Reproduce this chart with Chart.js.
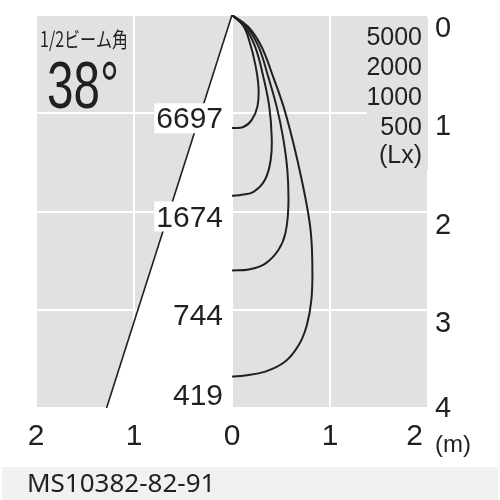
<!DOCTYPE html>
<html>
<head>
<meta charset="utf-8">
<title>配光図 MS10382-82-91</title>
<script src="https://cdn.jsdelivr.net/npm/chart.js@4.4.0/dist/chart.umd.min.js"></script>
<style>
  body { margin: 0; background: #fff; }
  canvas { display: block; }
</style>
</head>
<body>
<canvas id="beam" width="500" height="500"></canvas>
<script>
  // axis ticks (m)
  var xTicks = [-2, -1, 0, 1, 2];
  var yTicks = [0, 1, 2, 3, 4];

  // centre illuminance at each distance
  var centerDepths = [1, 2, 3, 4];
  var centerLux = ['6697', '1674', '744', '419'];
  var luxLevels = ['5000', '2000', '1000', '500'];

  // half beam angle edge
  var beamX = [0, -1.28];
  var beamY = [0, 4];

  // isolux curves, x = offset (m), y = distance (m)
  var lux5000X = [0, 0.115, 0.184, 0.235, 0.27, 0.26, 0.20, 0.115, 0];
  var lux5000Y = [0, 0.11, 0.29, 0.49, 0.73, 0.93, 1.07, 1.14, 1.15];

  var lux2000X = [0, 0.13, 0.235, 0.32, 0.38, 0.405, 0.395, 0.335, 0.22, 0.10, 0];
  var lux2000Y = [0, 0.12, 0.32, 0.63, 0.93, 1.24, 1.475, 1.68, 1.80, 1.83, 1.84];

  var lux1000X = [0, 0.15, 0.27, 0.37, 0.455, 0.52, 0.565, 0.575, 0.545, 0.475, 0.34, 0.17, 0];
  var lux1000Y = [0, 0.12, 0.32, 0.63, 0.93, 1.24, 1.58, 1.95, 2.22, 2.39, 2.53, 2.59, 2.60];

  var lux500X = [0, 0.165, 0.30, 0.42, 0.525, 0.61, 0.69, 0.76, 0.805, 0.82, 0.81, 0.76, 0.675, 0.54, 0.34, 0.13, 0];
  var lux500Y = [0, 0.12, 0.32, 0.63, 0.93, 1.24, 1.58, 1.92, 2.22, 2.56, 2.90, 3.17, 3.37, 3.53, 3.63, 3.67, 3.68];

  var INK = '#231f20';
  var PANEL = '#e1e1e1';
  var SANS = '"Liberation Sans", Arial, sans-serif';

  function toPoints(xs, ys) {
    var pts = [];
    for (var i = 0; i < xs.length; i++) pts.push({ x: xs[i], y: ys[i] });
    return pts;
  }

  function isolux(xs, ys) {
    return {
      data: toPoints(xs, ys),
      showLine: true,
      borderColor: INK,
      borderWidth: 2,
      pointRadius: 0,
      tension: 0.4,
      fill: false
    };
  }

  var decor = {
    id: 'decor',
    beforeDraw: function (chart) {
      var c = chart.ctx, a = chart.chartArea;
      c.save();
      c.fillStyle = '#ffffff';
      c.fillRect(0, 0, chart.width, chart.height);
      c.fillStyle = PANEL;
      c.fillRect(a.left, a.top, a.right - a.left, a.bottom - a.top);
      // model number strip
      c.fillStyle = '#f1f1f1';
      c.fillRect(2, 467, 496, 33);
      c.fillStyle = INK;
      c.font = '26px "Noto Sans", sans-serif';
      c.textAlign = 'left';
      c.textBaseline = 'alphabetic';
      c.fillText('MS10382-82-91', 27, 492);
      c.restore();
    },
    afterDatasetsDraw: function (chart) {
      var c = chart.ctx, a = chart.chartArea;
      var xs = chart.scales.x, ys = chart.scales.y;
      c.save();
      c.fillStyle = INK;
      c.textBaseline = 'alphabetic';

      // x ticks
      c.font = '30px ' + SANS;
      c.textAlign = 'center';
      xTicks.forEach(function (v) {
        var t = String(Math.abs(v));
        var w = c.measureText(t).width;
        var px = Math.min(xs.getPixelForValue(v), a.right - 5 - w / 2);
        c.fillText(t, px, 445);
      });
      c.font = '24px ' + SANS;
      c.textAlign = 'left';
      c.fillText('(m)', a.right + 7, 452);

      // y ticks on the right
      c.font = '29px ' + SANS;
      c.textAlign = 'left';
      yTicks.forEach(function (v) {
        var py = Math.min(ys.getPixelForValue(v) + 22, a.bottom + 9);
        c.fillText(String(v), a.right + 7, py);
      });

      // lux legend
      c.fillStyle = PANEL;
      c.fillRect(367, 18, a.right - 367, 152);
      c.fillStyle = INK;
      c.font = '25px ' + SANS;
      c.textAlign = 'right';
      luxLevels.forEach(function (t, i) {
        c.fillText(t, 422, 45 + i * 30);
      });
      c.fillText('(Lx)', 422, 163);

      // centre illuminance
      c.font = '30px ' + SANS;
      c.textAlign = 'right';
      centerDepths.forEach(function (d, i) {
        var by = Math.min(ys.getPixelForValue(d) + 15, a.bottom - 3);
        var w = c.measureText(centerLux[i]).width;
        c.fillStyle = '#ffffff';
        c.fillRect(223 - w - 2, by - 25, w + 4, 30);
        c.fillStyle = INK;
        c.fillText(centerLux[i], 223, by);
      });

      // half beam angle
      c.textAlign = 'left';
      c.font = '21px "Noto Sans CJK JP", sans-serif';
      c.fillText('1/2ビーム角', 40, 47, 88);
      c.font = '67px ' + SANS;
      c.fillText('38°', 47, 108, 72);
      c.restore();
    }
  };

  var ctx = document.getElementById('beam').getContext('2d');
  var chart = new Chart(ctx, {
    type: 'scatter',
    data: {
      datasets: [
        {
          data: toPoints(beamX, beamY),
          showLine: true,
          borderColor: INK,
          borderWidth: 1.6,
          pointRadius: 0,
          tension: 0,
          backgroundColor: '#ffffff',
          fill: { value: 4 }
        },
        isolux(lux5000X, lux5000Y),
        isolux(lux2000X, lux2000Y),
        isolux(lux1000X, lux1000Y),
        isolux(lux500X, lux500Y)
      ]
    },
    options: {
      responsive: false,
      animation: false,
      layout: { padding: { left: 36, top: 15, right: 72, bottom: 92 } },
      plugins: { legend: { display: false }, tooltip: { enabled: false } },
      scales: {
        x: {
          type: 'linear',
          min: -2,
          max: 2,
          ticks: { display: false, stepSize: 1 },
          border: { display: false },
          grid: { color: '#ffffff', lineWidth: 2, drawTicks: false }
        },
        y: {
          type: 'linear',
          min: 0,
          max: 4,
          reverse: true,
          ticks: { display: false, stepSize: 1 },
          border: { display: false },
          grid: { color: '#ffffff', lineWidth: 2, drawTicks: false }
        }
      }
    },
    plugins: [decor]
  });
</script>
</body>
</html>
